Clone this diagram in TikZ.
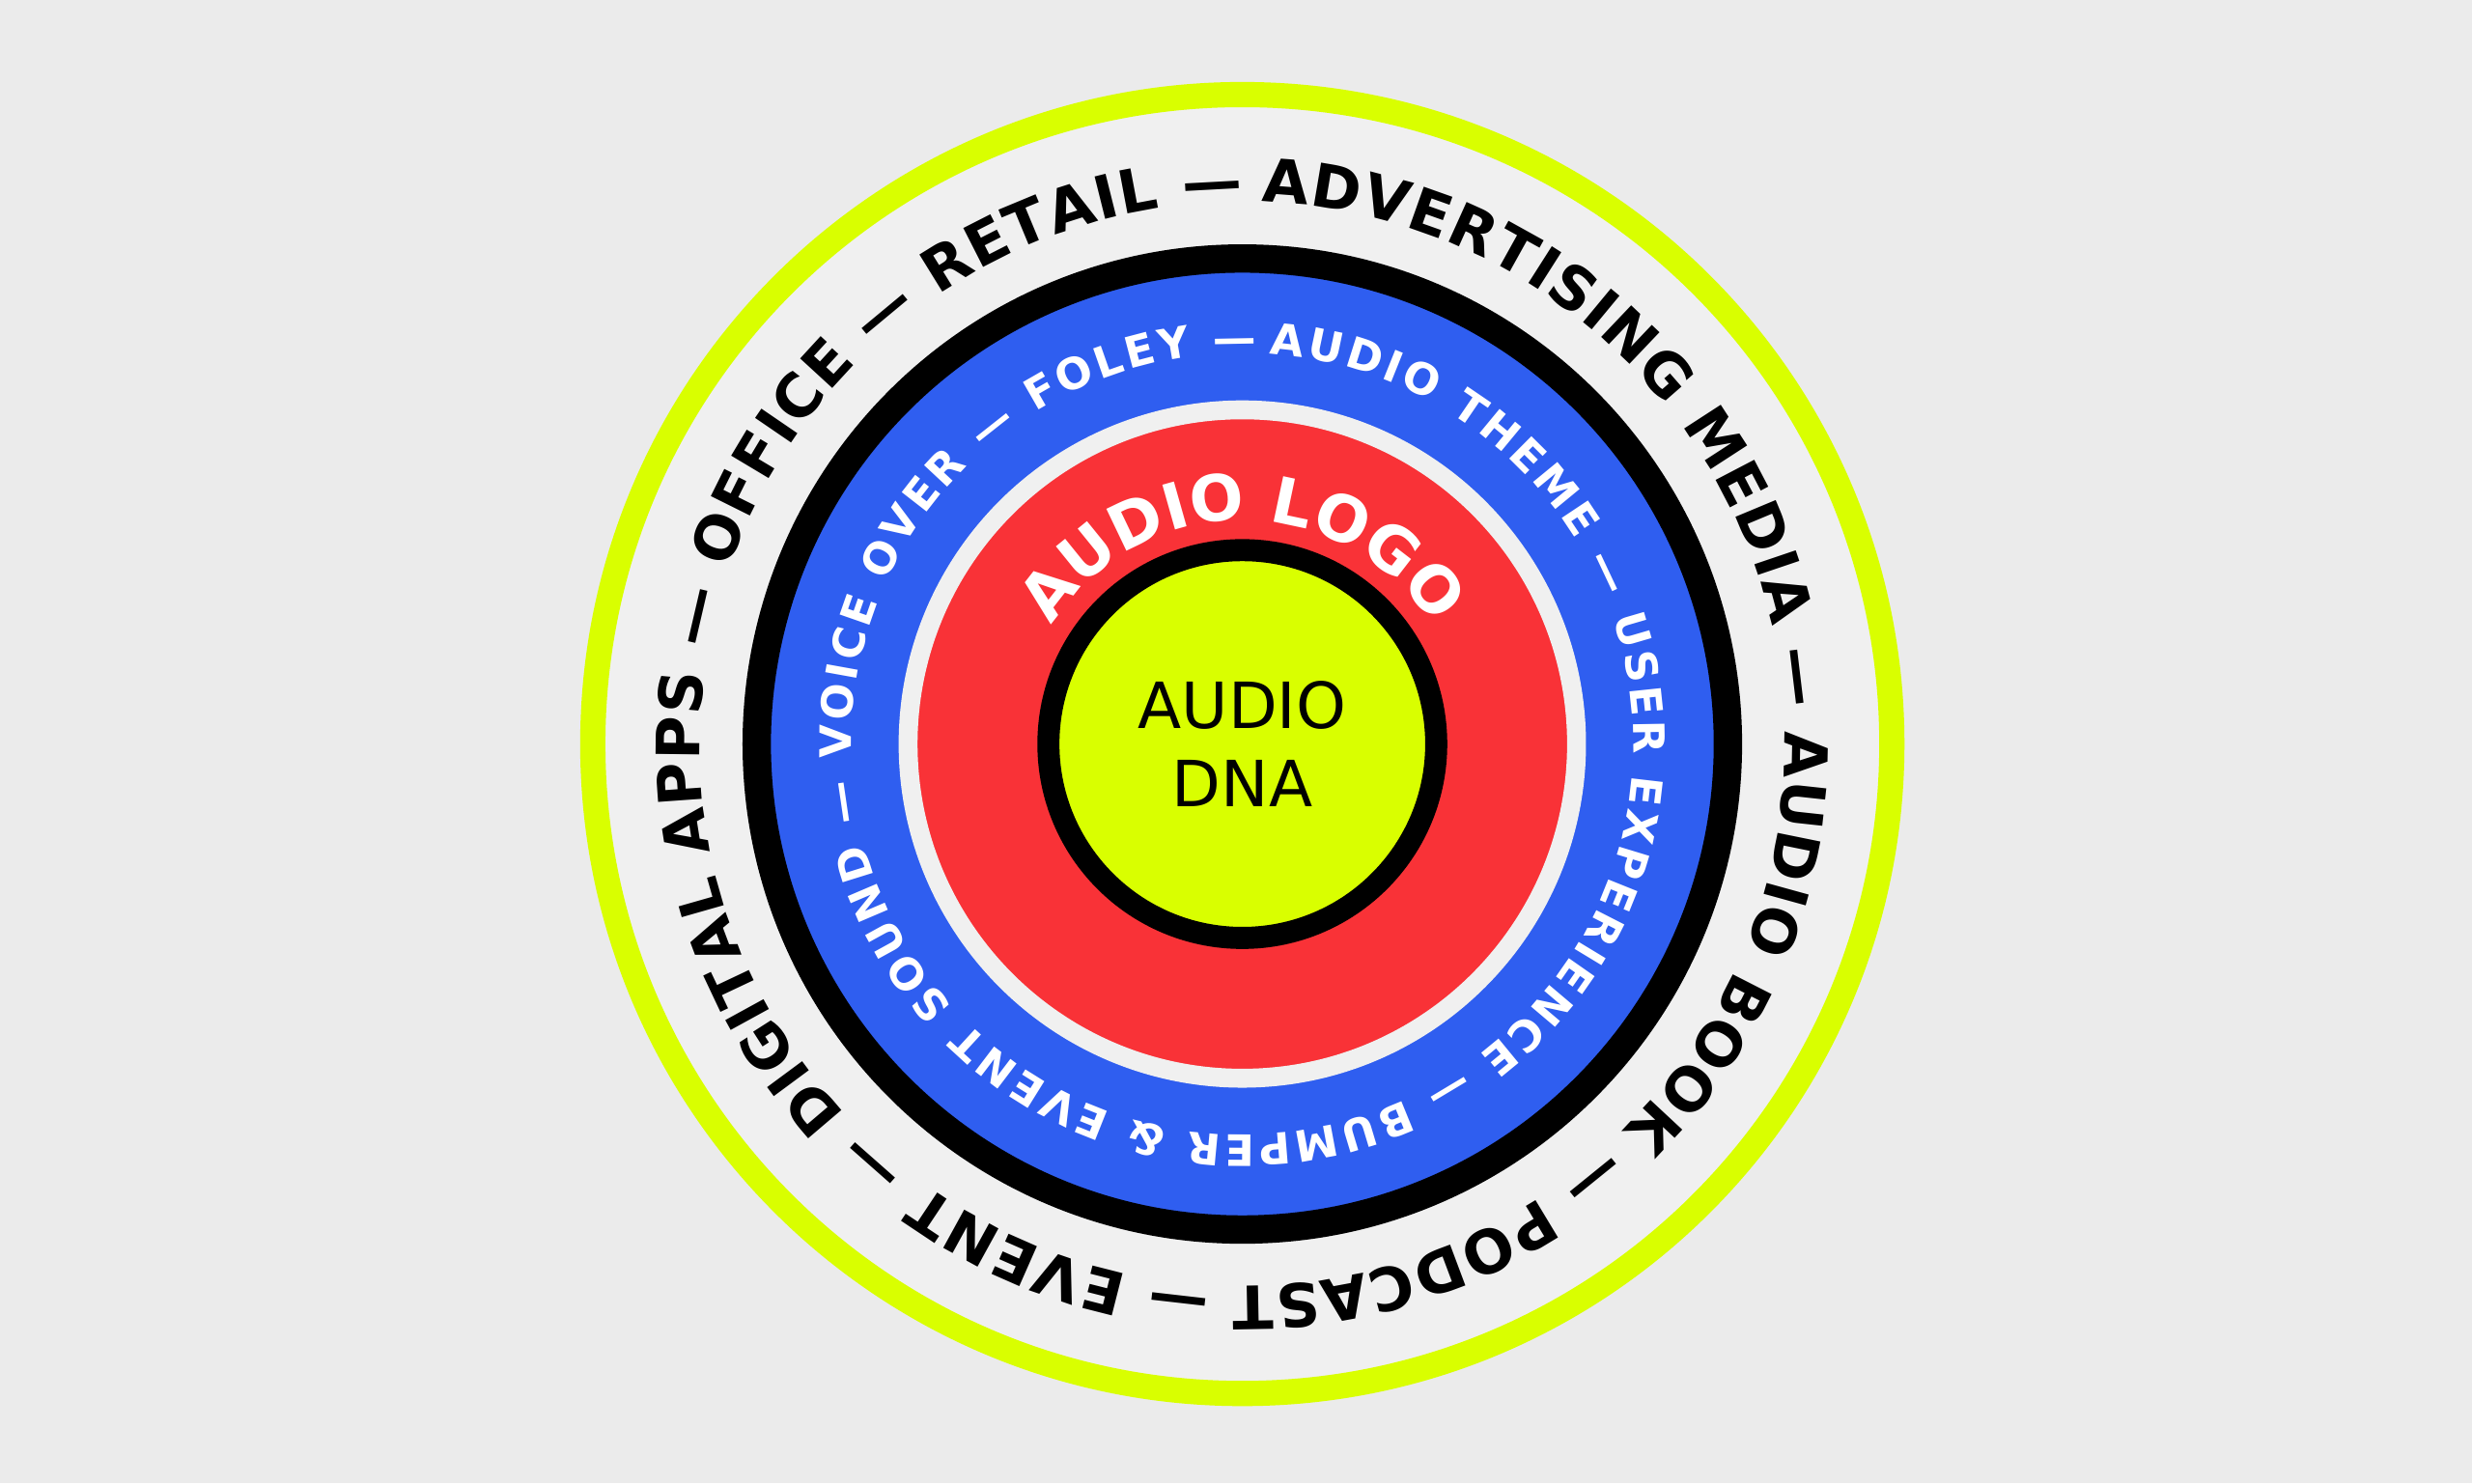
\documentclass[tikz,border=0pt]{standalone}
\usepackage{fontspec}
\setmainfont{DejaVu Sans}
\usetikzlibrary{decorations.text,calc}
\definecolor{bgc}{HTML}{EBEBEB}
\definecolor{discc}{HTML}{F0F0F0}
\definecolor{limec}{HTML}{D9FF00}
\definecolor{bluec}{HTML}{2F5EF0}
\definecolor{redc}{HTML}{F93237}
\tikzset{ringtext/.style={decorate, decoration={text along path, text align=left, raise=0pt}}}
\begin{document}
\begin{tikzpicture}
    \fill[bgc] (0,0) rectangle (15.68,9.41);
    \coordinate (c) at (7.88,4.69);
    % rings
    \draw[limec, line width=1.6mm, fill=discc] (c) circle (4.12);
    \draw[black, line width=1.8mm, fill=bluec] (c) circle (3.08);
    \draw[discc, line width=1.2mm, fill=redc] (c) circle (2.12);
    \draw[black, line width=1.4mm, fill=limec] (c) circle (1.23);
    \node[font=\fontsize{11.5}{14}\selectfont, align=center] (dna) at (c) {AUDIO\\DNA};
    % outer text
    \path[ringtext, decoration={text={|\fontsize{10.8}{13}\selectfont\bfseries|ADVERTISING MEDIA — AUDIO BOOK — PODCAST — EVENT — DIGITAL APPS — OFFICE — RETAIL — }, text align=fit to path}]
        ($(c)+(88:3.44)$) arc (88:-270:3.44);
    % blue text
    \path[ringtext, decoration={text={|\fontsize{7.8}{10}\selectfont\bfseries\color{white}|AUDIO THEME — USER EXPERIENCE — BUMPER {\&} EVENT SOUND — VOICE OVER — FOLEY — }, text align=fit to path}]
        ($(c)+(86:2.48)$) arc (86:-272:2.48);
    % red text
    \path[ringtext, decoration={text={|\fontsize{11.5}{14}\selectfont\bfseries\color{white}|AUDIO LOGO}, text align=center}]
        ($(c)+(150:1.42)$) arc (150:30:1.42);
\end{tikzpicture}
\end{document}
